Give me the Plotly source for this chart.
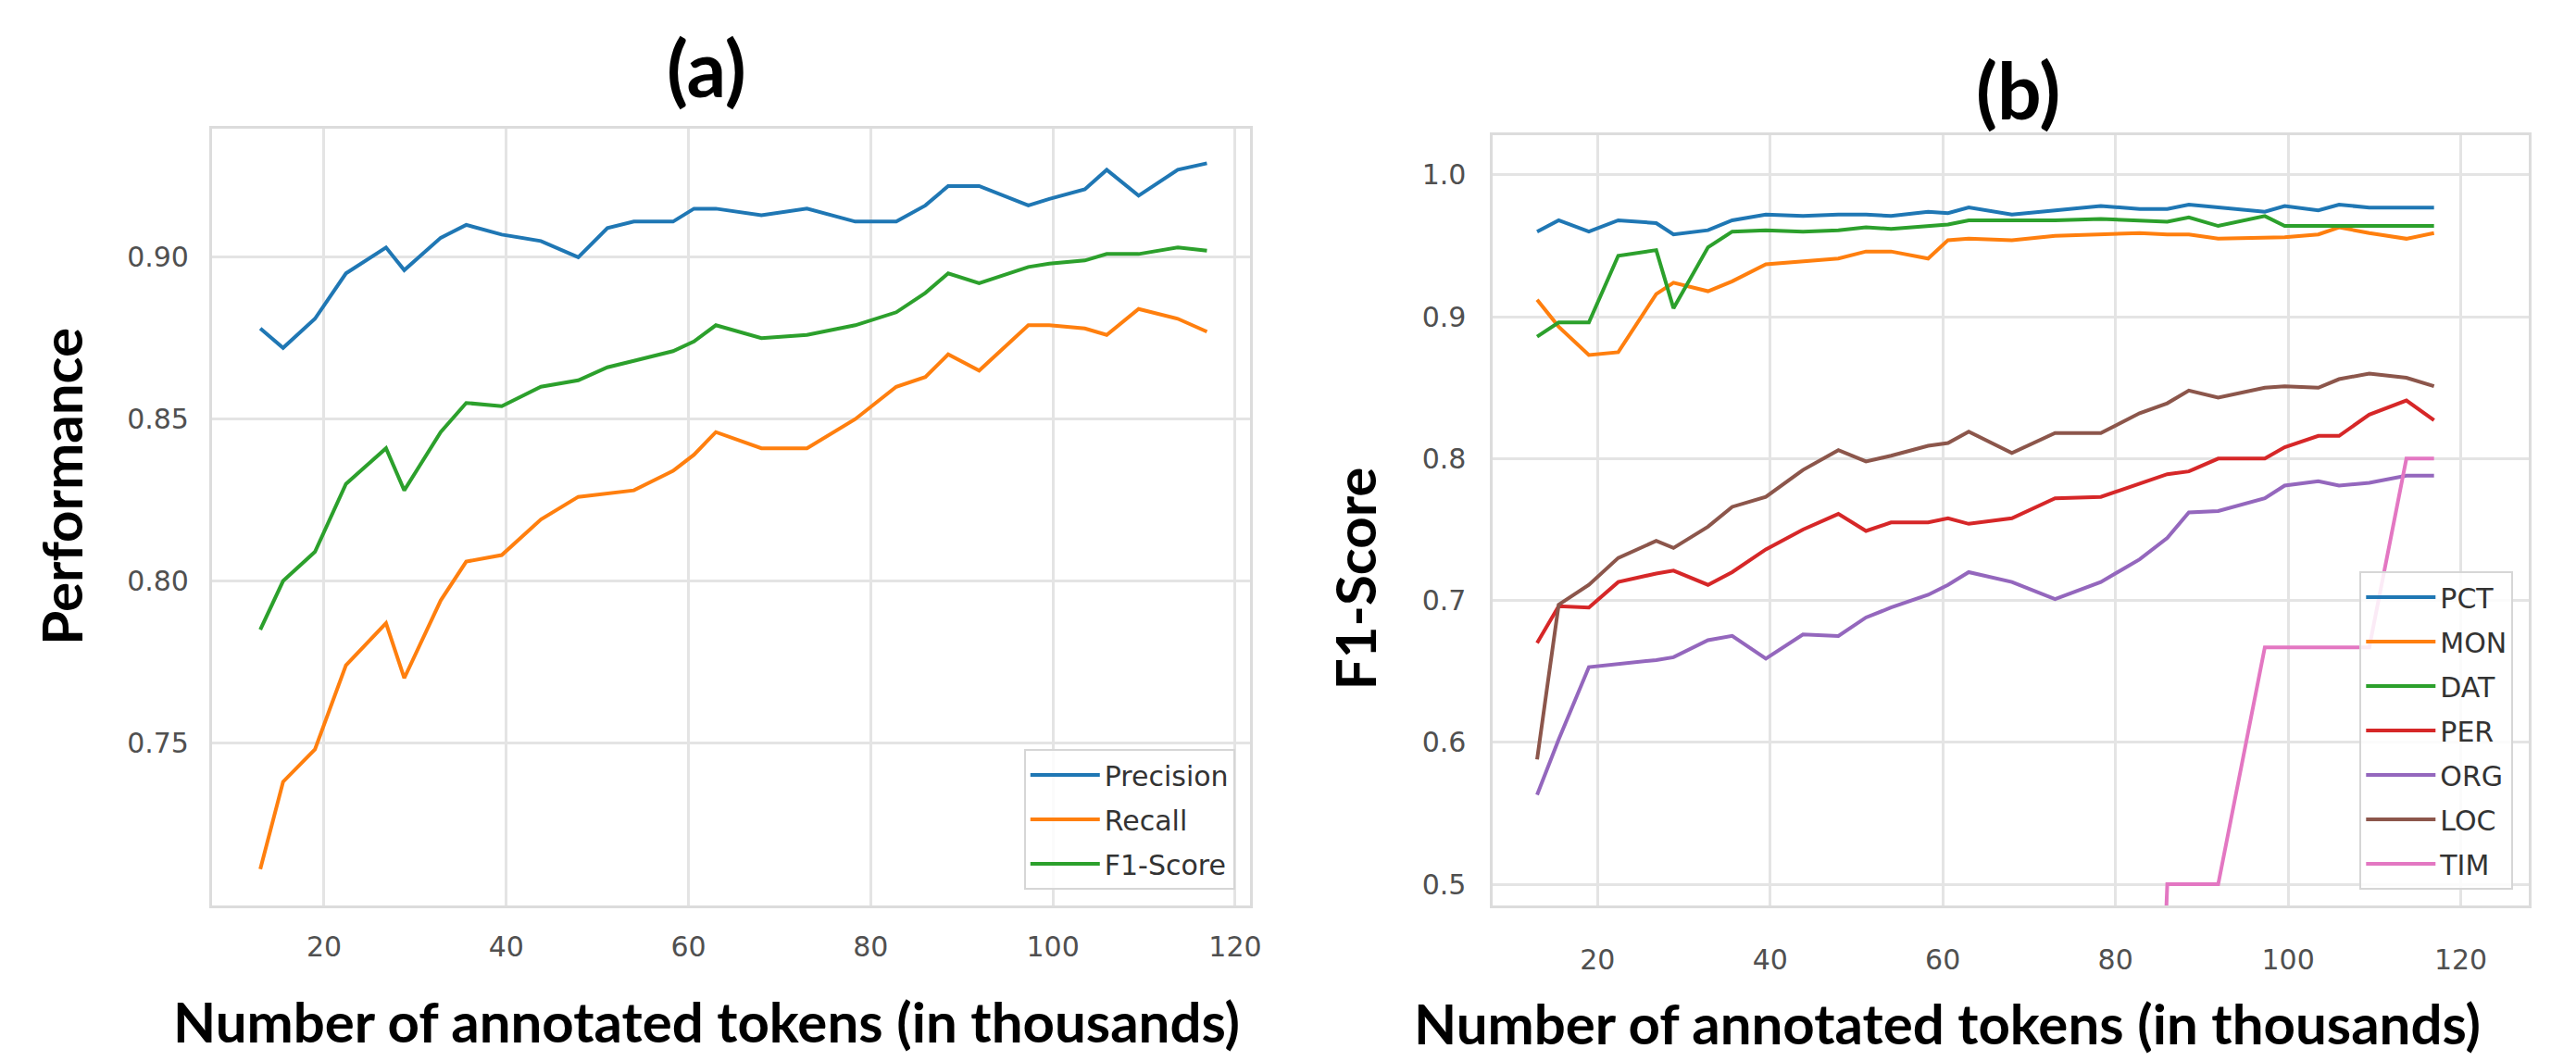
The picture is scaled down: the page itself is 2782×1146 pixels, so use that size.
import plotly.graph_objects as go

# ---------------- data ----------------
tokens = [13.0, 15.5, 19.0, 22.4, 26.8, 28.8, 32.8, 35.6, 39.5, 43.8, 47.9, 51.1, 54.0, 58.3, 60.6,
          63.0, 68.0, 73.0, 78.3, 82.8, 86.0, 88.5, 91.9, 97.3, 99.6, 103.5, 105.9, 109.4, 113.7, 116.9]

precision = [0.878, 0.872, 0.881, 0.895, 0.903, 0.896, 0.906, 0.910, 0.907, 0.905, 0.900, 0.909, 0.911, 0.911, 0.915,
             0.915, 0.913, 0.915, 0.911, 0.911, 0.916, 0.922, 0.922, 0.916, 0.918, 0.921, 0.927, 0.919, 0.927, 0.929]
recall = [0.711, 0.738, 0.748, 0.774, 0.787, 0.770, 0.794, 0.806, 0.808, 0.819, 0.826, 0.827, 0.828, 0.834, 0.839,
          0.846, 0.841, 0.841, 0.850, 0.860, 0.863, 0.870, 0.865, 0.879, 0.879, 0.878, 0.876, 0.884, 0.881, 0.877]
f1_score = [0.785, 0.800, 0.809, 0.830, 0.841, 0.828, 0.846, 0.855, 0.854, 0.860, 0.862, 0.866, 0.868, 0.871, 0.874,
            0.879, 0.875, 0.876, 0.879, 0.883, 0.889, 0.895, 0.892, 0.897, 0.898, 0.899, 0.901, 0.901, 0.903, 0.902]

pct = [0.960, 0.968, 0.960, 0.968, 0.966, 0.958, 0.961, 0.968, 0.972, 0.971, 0.972, 0.972, 0.971, 0.974, 0.973,
       0.977, 0.972, 0.975, 0.978, 0.976, 0.976, 0.979, 0.977, 0.974, 0.978, 0.975, 0.979, 0.977, 0.977, 0.977]
mon = [0.912, 0.893, 0.873, 0.875, 0.916, 0.924, 0.918, 0.925, 0.937, 0.939, 0.941, 0.946, 0.946, 0.941, 0.954,
       0.955, 0.954, 0.957, 0.958, 0.959, 0.958, 0.958, 0.955, 0.956, 0.956, 0.958, 0.963, 0.959, 0.955, 0.959]
dat = [0.886, 0.896, 0.896, 0.943, 0.947, 0.906, 0.949, 0.960, 0.961, 0.960, 0.961, 0.963, 0.962, 0.964, 0.965,
       0.968, 0.968, 0.968, 0.969, 0.968, 0.967, 0.970, 0.964, 0.971, 0.964, 0.964, 0.964, 0.964, 0.964, 0.964]
per = [0.670, 0.696, 0.695, 0.713, 0.719, 0.721, 0.711, 0.720, 0.736, 0.750, 0.761, 0.749, 0.755, 0.755, 0.758,
       0.754, 0.758, 0.772, 0.773, 0.782, 0.789, 0.791, 0.800, 0.800, 0.808, 0.816, 0.816, 0.831, 0.841, 0.827]
org = [0.563, 0.602, 0.653, 0.655, 0.658, 0.660, 0.672, 0.675, 0.659, 0.676, 0.675, 0.688, 0.695, 0.704, 0.711,
       0.720, 0.713, 0.701, 0.713, 0.729, 0.744, 0.762, 0.763, 0.772, 0.781, 0.784, 0.781, 0.783, 0.788, 0.788]
loc = [0.588, 0.697, 0.711, 0.730, 0.742, 0.737, 0.752, 0.766, 0.773, 0.792, 0.806, 0.798, 0.802, 0.809, 0.811,
       0.819, 0.804, 0.818, 0.818, 0.832, 0.839, 0.848, 0.843, 0.850, 0.851, 0.850, 0.856, 0.860, 0.857, 0.851]
tim = [0.0, 0.0, 0.0, 0.0, 0.0, 0.0, 0.0, 0.0, 0.0, 0.0, 0.0, 0.0, 0.0, 0.0, 0.0,
       0.0, 0.0, 0.0, 0.0, 0.0, 0.500, 0.500, 0.500, 0.667, 0.667, 0.667, 0.667, 0.667, 0.800, 0.800]

x_ticks = [20, 40, 60, 80, 100, 120]
left_y_ticks = [0.75, 0.80, 0.85, 0.90]
left_y_labels = ["0.75", "0.80", "0.85", "0.90"]
right_y_ticks = [0.5, 0.6, 0.7, 0.8, 0.9, 1.0]
right_y_labels = ["0.5", "0.6", "0.7", "0.8", "0.9", "1.0"]

left_series = [("Precision", precision, "#1f77b4"), ("Recall", recall, "#ff7f0e"), ("F1-Score", f1_score, "#2ca02c")]
right_series = [("PCT", pct, "#1f77b4"), ("MON", mon, "#ff7f0e"), ("DAT", dat, "#2ca02c"), ("PER", per, "#d62728"),
                ("ORG", org, "#9467bd"), ("LOC", loc, "#8c564b"), ("TIM", tim, "#e377c2")]

# ---------------- figure ----------------
W, H = 2782, 1146

def px(x):
    return x / W

def py(y):
    return 1 - y / H

fig = go.Figure()
for name, vals, col in left_series:
    fig.add_trace(go.Scatter(x=tokens, y=vals, name=name, mode="lines", line=dict(color=col, width=4),
                             xaxis="x", yaxis="y", legend="legend", legendgroup=name))
for name, vals, col in right_series:
    fig.add_trace(go.Scatter(x=tokens, y=vals, name=name, mode="lines", line=dict(color=col, width=4),
                             xaxis="x2", yaxis="y2", legend="legend2", legendgroup=name))

tick_font = dict(family="DejaVu Sans", size=30, color="#505050")
grid = dict(showgrid=True, gridcolor="#e4e4e4", gridwidth=3, zeroline=False, showline=True, mirror=True,
            linecolor="#dcdcdc", linewidth=3, ticks="", tickfont=tick_font)

legend_common = dict(yanchor="bottom", xanchor="right", bgcolor="rgba(255,255,255,0.85)",
                     bordercolor="#d6d6d6", borderwidth=2,
                     font=dict(family="DejaVu Sans", size=30, color="#333333"),
                     itemwidth=75, tracegroupgap=6)

fig.update_layout(
    width=W, height=H, margin=dict(l=0, r=0, t=0, b=0),
    paper_bgcolor="white", plot_bgcolor="white",
    xaxis=dict(domain=[px(222), px(1348)], range=[7.7, 121.6], tickvals=x_ticks, anchor="y",
               ticklabelstandoff=16, **grid),
    yaxis=dict(domain=[py(970), py(131)], range=[0.6998, 0.9397], tickvals=left_y_ticks, ticktext=left_y_labels,
               anchor="x", ticklabelstandoff=16, **grid),
    xaxis2=dict(domain=[px(1612), px(2736)], range=[7.9, 127.9], tickvals=x_ticks, anchor="y2",
                ticklabelstandoff=30, **grid),
    yaxis2=dict(domain=[py(970), py(138)], range=[0.485, 1.028], tickvals=right_y_ticks, ticktext=right_y_labels,
                anchor="x2", ticklabelstandoff=20, **grid),
    legend=dict(x=px(1332), y=py(953), **legend_common),
    legend2=dict(x=px(2719), y=py(953), **legend_common),
    showlegend=True,
)

title_font = dict(family="Lato", size=84, color="black")
label_font = dict(family="Lato", size=60, color="black")
ann = [
    dict(text="<b>(a)</b>", x=px(759), y=py(64), font=title_font),
    dict(text="<b>(b)</b>", x=px(2182), y=py(88), font=title_font),
    dict(text="<b>Performance</b>", x=px(58), y=py(517), font=label_font, textangle=-90),
    dict(text="<b>F1-Score</b>", x=px(1462), y=py(617), font=label_font, textangle=-90),
    dict(text="<b>Number of annotated tokens (in thousands)</b>", x=px(759), y=py(1095), font=label_font),
    dict(text="<b>Number of annotated tokens (in thousands)</b>", x=px(2105), y=py(1097), font=label_font),
]
for a in ann:
    fig.add_annotation(xref="paper", yref="paper", showarrow=False, xanchor="center", yanchor="middle", **a)

fig.write_html("out.html")
